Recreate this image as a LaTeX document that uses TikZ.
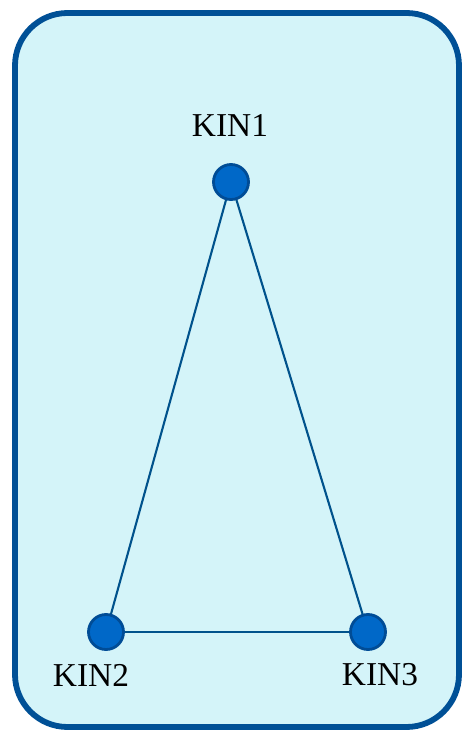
\documentclass[tikz,border=0pt]{standalone}
\usepackage{fontspec}
\setmainfont{Liberation Serif}
\usepackage{tikz}
\usetikzlibrary{positioning}
\definecolor{boxfill}{RGB}{212,244,249}
\definecolor{boxline}{RGB}{0,80,150}
\definecolor{dotfill}{RGB}{0,104,200}
\definecolor{dotline}{RGB}{0,76,150}
\definecolor{linkline}{RGB}{0,82,140}

\tikzset{
    kin/.style={circle, draw=dotline, fill=dotfill, line width=1.6pt, minimum size=0.7cm, inner sep=0pt},
    kinlabel/.style={inner sep=0pt, font=\fontsize{19}{21}\selectfont},
    link/.style={draw=linkline, line width=1.2pt}
}

\begin{document}
\begin{tikzpicture}
                        \useasboundingbox (0, 0) rectangle (9.48, 14.86);

                        \draw[boxline, fill=boxfill, line width=3.3pt, rounded corners=1.05cm]
                        (0.3, 0.32) rectangle (9.18, 14.6);

                        \coordinate (p1) at (4.62, 11.22);
                        \coordinate (p2) at (2.12, 2.22);
                        \coordinate (p3) at (7.36, 2.22);

                        \draw[link]
                        (p1) edge (p2)
                        (p1) edge (p3)
                        (p2) edge (p3);

                        \node[kin] (kin1) at (p1) {};
                        \node[kin] (kin2) at (p2) {};
                        \node[kin] (kin3) at (p3) {};

                        \node[kinlabel] (kin1lbl) at (4.60, 12.36) {KIN1};
                        \node[kinlabel] (kin2lbl) at (1.82, 1.36) {KIN2};
                        \node[kinlabel] (kin3lbl) at (7.60, 1.36) {KIN3};
                    \end{tikzpicture}
\end{document}
